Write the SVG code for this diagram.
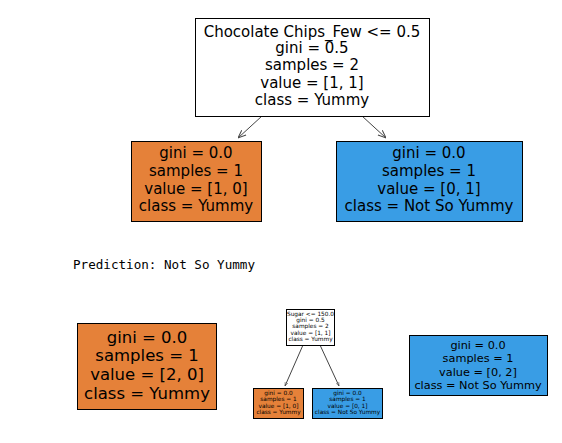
<svg xmlns="http://www.w3.org/2000/svg" width="562" height="443" viewBox="0 0 562 443">
<style>
text{font-family:"DejaVu Sans",sans-serif;fill:#000;text-anchor:middle}
.box{stroke:#000;stroke-width:1}
.w{fill:#fff}
.o{fill:#e58139}
.b{fill:#399de5}
.edge{stroke:#444;stroke-width:1;fill:none}
.t15{font-size:15px}
.t16{font-size:16.5px}
.t11{font-size:11.3px}
.t6{font-size:5.8px}
.mono{font-family:"DejaVu Sans Mono",monospace;font-size:12.6px;text-anchor:start}
</style>
<defs>
<marker id="ah" viewBox="0 0 10 10" refX="10" refY="5" markerWidth="8" markerHeight="8" orient="auto" markerUnits="userSpaceOnUse">
<path d="M0,1 L10,5 L0,9" fill="none" stroke="#444" stroke-width="1.2"/>
</marker>
<marker id="ahs" viewBox="0 0 10 10" refX="10" refY="5" markerWidth="4" markerHeight="4" orient="auto" markerUnits="userSpaceOnUse">
<path d="M0,1 L10,5 L0,9" fill="none" stroke="#444" stroke-width="1.2"/>
</marker>
</defs>
<g id="connectors">
<line class="edge" x1="262" y1="116" x2="238" y2="138" marker-end="url(#ah)"/>
<line class="edge" x1="362" y1="116" x2="386" y2="138" marker-end="url(#ah)"/>
<line class="edge" x1="303" y1="345" x2="285" y2="386" stroke-width="0.6" marker-end="url(#ahs)"/>
<line class="edge" x1="320" y1="345" x2="339" y2="386" stroke-width="0.6" marker-end="url(#ahs)"/>
</g>
<g id="root">
<rect class="box w" x="195.5" y="18.5" width="234" height="98"/>
<text class="t15" x="312" y="37">Chocolate Chips_Few &lt;= 0.5</text>
<text class="t15" x="312" y="53">gini = 0.5</text>
<text class="t15" x="312" y="70">samples = 2</text>
<text class="t15" x="312" y="88">value = [1, 1]</text>
<text class="t15" x="312" y="105">class = Yummy</text>
</g>
<g id="left">
<rect class="box o" x="131.5" y="141.5" width="130" height="80"/>
<text class="t15" x="196" y="158">gini = 0.0</text>
<text class="t15" x="196" y="176">samples = 1</text>
<text class="t15" x="196" y="194">value = [1, 0]</text>
<text class="t15" x="196" y="211">class = Yummy</text>
</g>
<g id="right">
<rect class="box b" x="336.5" y="141.5" width="186" height="80"/>
<text class="t15" x="429" y="158">gini = 0.0</text>
<text class="t15" x="429" y="176">samples = 1</text>
<text class="t15" x="429" y="194">value = [0, 1]</text>
<text class="t15" x="429" y="211">class = Not So Yummy</text>
</g>
<g id="prediction">
<text class="mono" x="73" y="269">Prediction: Not So Yummy</text>
</g>
<g id="leaf-big">
<rect class="box o" x="77.5" y="323.5" width="139" height="86"/>
<text class="t16" x="147" y="343">gini = 0.0</text>
<text class="t16" x="147" y="361">samples = 1</text>
<text class="t16" x="147" y="380">value = [2, 0]</text>
<text class="t16" x="147" y="399">class = Yummy</text>
</g>
<g id="small-root">
<rect class="box w" x="286.5" y="309.5" width="48" height="36" stroke-width="0.6"/>
<text class="t6" x="310.5" y="316">Sugar &lt;= 150.0</text>
<text class="t6" x="310.5" y="322">gini = 0.5</text>
<text class="t6" x="310.5" y="328">samples = 2</text>
<text class="t6" x="310.5" y="335">value = [1, 1]</text>
<text class="t6" x="310.5" y="341">class = Yummy</text>
</g>
<g id="small-left">
<rect class="box o" x="253.5" y="388.5" width="50" height="30" stroke-width="0.6"/>
<text class="t6" x="278.5" y="395">gini = 0.0</text>
<text class="t6" x="278.5" y="401">samples = 1</text>
<text class="t6" x="278.5" y="408">value = [1, 0]</text>
<text class="t6" x="278.5" y="414">class = Yummy</text>
</g>
<g id="small-right">
<rect class="box b" x="312.5" y="388.5" width="70" height="30" stroke-width="0.6"/>
<text class="t6" x="347.5" y="395">gini = 0.0</text>
<text class="t6" x="347.5" y="401">samples = 1</text>
<text class="t6" x="347.5" y="408">value = [0, 1]</text>
<text class="t6" x="347.5" y="414">class = Not So Yummy</text>
</g>
<g id="leaf-right">
<rect class="box b" x="409.5" y="335.5" width="138" height="60"/>
<text class="t11" x="478" y="349">gini = 0.0</text>
<text class="t11" x="478" y="362">samples = 1</text>
<text class="t11" x="478" y="376">value = [0, 2]</text>
<text class="t11" x="478" y="389">class = Not So Yummy</text>
</g>
</svg>
